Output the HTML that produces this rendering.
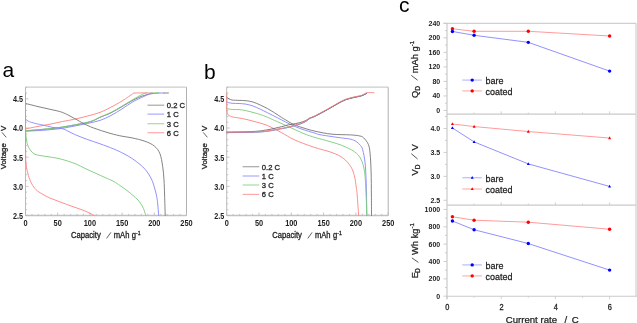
<!DOCTYPE html>
<html><head><meta charset="utf-8"><style>
html,body{margin:0;padding:0;background:#fff;}
body{width:637px;height:323px;overflow:hidden;}
svg{display:block;will-change:transform;}
</style></head><body>
<svg width="637" height="323" viewBox="0 0 637 323" font-family='"Liberation Sans", sans-serif'>
<rect width="637" height="323" fill="#fff"/>
<line x1="25.50" y1="87.20" x2="186.50" y2="87.20" stroke="#cdcdcd" stroke-width="1.3"/>
<line x1="186.50" y1="87.20" x2="186.50" y2="215.50" stroke="#b0b0b0" stroke-width="1"/>
<line x1="25.50" y1="87.20" x2="25.50" y2="215.50" stroke="#bcbcbc" stroke-width="1"/>
<line x1="25.50" y1="215.50" x2="186.50" y2="215.50" stroke="#c2c2c2" stroke-width="1.4"/>
<line x1="25.50" y1="215.50" x2="28.50" y2="215.50" stroke="#b8b8b8" stroke-width="0.8"/>
<line x1="25.50" y1="209.67" x2="27.10" y2="209.67" stroke="#b8b8b8" stroke-width="0.8"/>
<line x1="25.50" y1="203.84" x2="27.10" y2="203.84" stroke="#b8b8b8" stroke-width="0.8"/>
<line x1="25.50" y1="198.00" x2="27.10" y2="198.00" stroke="#b8b8b8" stroke-width="0.8"/>
<line x1="25.50" y1="192.17" x2="27.10" y2="192.17" stroke="#b8b8b8" stroke-width="0.8"/>
<line x1="25.50" y1="186.34" x2="28.50" y2="186.34" stroke="#b8b8b8" stroke-width="0.8"/>
<line x1="25.50" y1="180.51" x2="27.10" y2="180.51" stroke="#b8b8b8" stroke-width="0.8"/>
<line x1="25.50" y1="174.68" x2="27.10" y2="174.68" stroke="#b8b8b8" stroke-width="0.8"/>
<line x1="25.50" y1="168.85" x2="27.10" y2="168.85" stroke="#b8b8b8" stroke-width="0.8"/>
<line x1="25.50" y1="163.01" x2="27.10" y2="163.01" stroke="#b8b8b8" stroke-width="0.8"/>
<line x1="25.50" y1="157.18" x2="28.50" y2="157.18" stroke="#b8b8b8" stroke-width="0.8"/>
<line x1="25.50" y1="151.35" x2="27.10" y2="151.35" stroke="#b8b8b8" stroke-width="0.8"/>
<line x1="25.50" y1="145.52" x2="27.10" y2="145.52" stroke="#b8b8b8" stroke-width="0.8"/>
<line x1="25.50" y1="139.69" x2="27.10" y2="139.69" stroke="#b8b8b8" stroke-width="0.8"/>
<line x1="25.50" y1="133.85" x2="27.10" y2="133.85" stroke="#b8b8b8" stroke-width="0.8"/>
<line x1="25.50" y1="128.02" x2="28.50" y2="128.02" stroke="#b8b8b8" stroke-width="0.8"/>
<line x1="25.50" y1="122.19" x2="27.10" y2="122.19" stroke="#b8b8b8" stroke-width="0.8"/>
<line x1="25.50" y1="116.36" x2="27.10" y2="116.36" stroke="#b8b8b8" stroke-width="0.8"/>
<line x1="25.50" y1="110.53" x2="27.10" y2="110.53" stroke="#b8b8b8" stroke-width="0.8"/>
<line x1="25.50" y1="104.70" x2="27.10" y2="104.70" stroke="#b8b8b8" stroke-width="0.8"/>
<line x1="25.50" y1="98.86" x2="28.50" y2="98.86" stroke="#b8b8b8" stroke-width="0.8"/>
<line x1="25.50" y1="93.03" x2="27.10" y2="93.03" stroke="#b8b8b8" stroke-width="0.8"/>
<line x1="25.50" y1="87.20" x2="27.10" y2="87.20" stroke="#b8b8b8" stroke-width="0.8"/>
<line x1="25.50" y1="215.50" x2="25.50" y2="212.50" stroke="#b8b8b8" stroke-width="0.8"/>
<line x1="31.94" y1="215.50" x2="31.94" y2="213.90" stroke="#b8b8b8" stroke-width="0.8"/>
<line x1="38.38" y1="215.50" x2="38.38" y2="213.90" stroke="#b8b8b8" stroke-width="0.8"/>
<line x1="44.82" y1="215.50" x2="44.82" y2="213.90" stroke="#b8b8b8" stroke-width="0.8"/>
<line x1="51.26" y1="215.50" x2="51.26" y2="213.90" stroke="#b8b8b8" stroke-width="0.8"/>
<line x1="57.70" y1="215.50" x2="57.70" y2="212.50" stroke="#b8b8b8" stroke-width="0.8"/>
<line x1="64.14" y1="215.50" x2="64.14" y2="213.90" stroke="#b8b8b8" stroke-width="0.8"/>
<line x1="70.58" y1="215.50" x2="70.58" y2="213.90" stroke="#b8b8b8" stroke-width="0.8"/>
<line x1="77.02" y1="215.50" x2="77.02" y2="213.90" stroke="#b8b8b8" stroke-width="0.8"/>
<line x1="83.46" y1="215.50" x2="83.46" y2="213.90" stroke="#b8b8b8" stroke-width="0.8"/>
<line x1="89.90" y1="215.50" x2="89.90" y2="212.50" stroke="#b8b8b8" stroke-width="0.8"/>
<line x1="96.34" y1="215.50" x2="96.34" y2="213.90" stroke="#b8b8b8" stroke-width="0.8"/>
<line x1="102.78" y1="215.50" x2="102.78" y2="213.90" stroke="#b8b8b8" stroke-width="0.8"/>
<line x1="109.22" y1="215.50" x2="109.22" y2="213.90" stroke="#b8b8b8" stroke-width="0.8"/>
<line x1="115.66" y1="215.50" x2="115.66" y2="213.90" stroke="#b8b8b8" stroke-width="0.8"/>
<line x1="122.10" y1="215.50" x2="122.10" y2="212.50" stroke="#b8b8b8" stroke-width="0.8"/>
<line x1="128.54" y1="215.50" x2="128.54" y2="213.90" stroke="#b8b8b8" stroke-width="0.8"/>
<line x1="134.98" y1="215.50" x2="134.98" y2="213.90" stroke="#b8b8b8" stroke-width="0.8"/>
<line x1="141.42" y1="215.50" x2="141.42" y2="213.90" stroke="#b8b8b8" stroke-width="0.8"/>
<line x1="147.86" y1="215.50" x2="147.86" y2="213.90" stroke="#b8b8b8" stroke-width="0.8"/>
<line x1="154.30" y1="215.50" x2="154.30" y2="212.50" stroke="#b8b8b8" stroke-width="0.8"/>
<line x1="160.74" y1="215.50" x2="160.74" y2="213.90" stroke="#b8b8b8" stroke-width="0.8"/>
<line x1="167.18" y1="215.50" x2="167.18" y2="213.90" stroke="#b8b8b8" stroke-width="0.8"/>
<line x1="173.62" y1="215.50" x2="173.62" y2="213.90" stroke="#b8b8b8" stroke-width="0.8"/>
<line x1="180.06" y1="215.50" x2="180.06" y2="213.90" stroke="#b8b8b8" stroke-width="0.8"/>
<line x1="186.50" y1="215.50" x2="186.50" y2="212.50" stroke="#b8b8b8" stroke-width="0.8"/>
<text transform="translate(23.10,218.90) scale(0.88,1)" font-size="8.2" text-anchor="end" font-weight="bold" fill="#1e1e1e" >2.5</text>
<text transform="translate(23.10,189.74) scale(0.88,1)" font-size="8.2" text-anchor="end" font-weight="bold" fill="#1e1e1e" >3.0</text>
<text transform="translate(23.10,160.58) scale(0.88,1)" font-size="8.2" text-anchor="end" font-weight="bold" fill="#1e1e1e" >3.5</text>
<text transform="translate(23.10,131.42) scale(0.88,1)" font-size="8.2" text-anchor="end" font-weight="bold" fill="#1e1e1e" >4.0</text>
<text transform="translate(23.10,102.26) scale(0.88,1)" font-size="8.2" text-anchor="end" font-weight="bold" fill="#1e1e1e" >4.5</text>
<text transform="translate(25.50,226.10) scale(0.9,1)" font-size="8.2" text-anchor="middle" font-weight="bold" fill="#1e1e1e" >0</text>
<text transform="translate(57.70,226.10) scale(0.9,1)" font-size="8.2" text-anchor="middle" font-weight="bold" fill="#1e1e1e" >50</text>
<text transform="translate(89.90,226.10) scale(0.9,1)" font-size="8.2" text-anchor="middle" font-weight="bold" fill="#1e1e1e" >100</text>
<text transform="translate(122.10,226.10) scale(0.9,1)" font-size="8.2" text-anchor="middle" font-weight="bold" fill="#1e1e1e" >150</text>
<text transform="translate(154.30,226.10) scale(0.9,1)" font-size="8.2" text-anchor="middle" font-weight="bold" fill="#1e1e1e" >200</text>
<text transform="translate(186.50,226.10) scale(0.9,1)" font-size="8.2" text-anchor="middle" font-weight="bold" fill="#1e1e1e" >250</text>
<text transform="translate(71.1,238.2) scale(0.93,1)" font-size="8.2" fill="#1e1e1e" stroke="#1e1e1e" stroke-width="0.3">Capacity<tspan dx="14.0">mAh</tspan><tspan dx="2.6">g</tspan><tspan dy="-3" font-size="5.5">-1</tspan></text>
<line x1="106.60" y1="238.4" x2="110.90" y2="232.4" stroke="#1e1e1e" stroke-width="0.7"/>
<text transform="translate(6.0,169.3) rotate(-90)" font-size="7.8" fill="#1e1e1e" stroke="#1e1e1e" stroke-width="0.3">Voltage<tspan dx="12.4">V</tspan></text>
<line x1="2.00" y1="132.4" x2="6.20" y2="137.3" stroke="#1e1e1e" stroke-width="0.7"/>
<text x="2.4" y="77.3" font-size="21" fill="#000">a</text>
<path d="M25.50,130.90 C27.92,130.70 35.92,130.07 40.00,129.70 C44.08,129.33 46.27,129.12 50.00,128.70 C53.73,128.28 58.27,127.82 62.40,127.20 C66.53,126.58 70.67,125.78 74.80,125.00 C78.93,124.22 84.10,123.23 87.20,122.50 C90.30,121.77 91.27,121.45 93.40,120.60 C95.53,119.75 97.07,118.70 100.00,117.40 C102.93,116.10 107.33,114.60 111.00,112.80 C114.67,111.00 118.33,108.70 122.00,106.60 C125.67,104.50 130.00,101.82 133.00,100.20 C136.00,98.58 138.17,97.68 140.00,96.90 C141.83,96.12 142.58,95.93 144.00,95.50 C145.42,95.07 147.05,94.62 148.50,94.30 C149.95,93.98 151.08,93.82 152.70,93.60 C154.32,93.38 157.28,93.10 158.20,93.00 M163.9,93 L168.4,93" fill="none" stroke="#757575" stroke-width="0.9" stroke-linejoin="round" stroke-linecap="round" />
<path d="M25.50,131.20 C27.92,131.08 35.92,130.75 40.00,130.50 C44.08,130.25 46.27,130.07 50.00,129.70 C53.73,129.33 58.27,128.92 62.40,128.30 C66.53,127.68 70.67,126.80 74.80,126.00 C78.93,125.20 83.00,124.43 87.20,123.50 C91.40,122.57 96.03,121.73 100.00,120.40 C103.97,119.07 107.33,117.42 111.00,115.50 C114.67,113.58 118.33,111.20 122.00,108.90 C125.67,106.60 129.33,103.78 133.00,101.70 C136.67,99.62 141.50,97.58 144.00,96.40 C146.50,95.22 146.83,95.13 148.00,94.60 C149.17,94.07 150.25,93.47 151.00,93.20 C151.75,92.93 152.25,93.03 152.50,93.00 M158.4,93 L163.9,93" fill="none" stroke="#8585ff" stroke-width="0.9" stroke-linejoin="round" stroke-linecap="round" />
<path d="M25.50,130.70 C27.92,130.50 35.92,129.87 40.00,129.50 C44.08,129.13 46.27,128.92 50.00,128.50 C53.73,128.08 58.27,127.62 62.40,127.00 C66.53,126.38 70.67,125.58 74.80,124.80 C78.93,124.02 84.10,123.03 87.20,122.30 C90.30,121.57 91.27,121.27 93.40,120.40 C95.53,119.53 97.07,118.43 100.00,117.10 C102.93,115.77 107.33,114.23 111.00,112.40 C114.67,110.57 118.33,108.25 122.00,106.10 C125.67,103.95 129.70,101.42 133.00,99.50 C136.30,97.58 139.75,95.67 141.80,94.60 C143.85,93.53 144.43,93.37 145.30,93.10 C146.17,92.83 146.72,93.02 147.00,93.00 M150.8,93 L158.4,93" fill="none" stroke="#7acb7a" stroke-width="0.9" stroke-linejoin="round" stroke-linecap="round" />
<path d="M25.50,128.90 C27.42,128.52 32.92,127.38 37.00,126.60 C41.08,125.82 45.77,125.05 50.00,124.20 C54.23,123.35 58.27,122.33 62.40,121.50 C66.53,120.67 70.67,120.10 74.80,119.20 C78.93,118.30 83.00,117.23 87.20,116.10 C91.40,114.97 96.03,113.88 100.00,112.40 C103.97,110.92 107.33,109.10 111.00,107.20 C114.67,105.30 119.07,102.77 122.00,101.00 C124.93,99.23 126.85,97.75 128.60,96.60 C130.35,95.45 131.45,94.70 132.50,94.10 C133.55,93.50 131.85,93.18 134.90,93.00 C137.95,92.82 148.15,93.00 150.80,93.00" fill="none" stroke="#ff8080" stroke-width="0.9" stroke-linejoin="round" stroke-linecap="round" />
<path d="M25.50,103.40 C27.58,103.93 33.92,105.62 38.00,106.60 C42.08,107.58 45.93,108.33 50.00,109.30 C54.07,110.27 58.27,110.85 62.40,112.40 C66.53,113.95 71.28,116.75 74.80,118.60 C78.32,120.45 80.40,121.95 83.50,123.50 C86.60,125.05 88.98,126.27 93.40,127.90 C97.82,129.53 105.23,131.92 110.00,133.30 C114.77,134.68 118.32,135.43 122.00,136.20 C125.68,136.97 128.25,137.05 132.10,137.90 C135.95,138.75 141.38,139.93 145.10,141.30 C148.82,142.67 151.93,144.05 154.40,146.10 C156.87,148.15 158.52,150.20 159.90,153.60 C161.28,157.00 162.02,162.10 162.70,166.50 C163.38,170.90 163.68,175.25 164.00,180.00 C164.32,184.75 164.40,189.08 164.60,195.00 C164.80,200.92 165.10,212.08 165.20,215.50" fill="none" stroke="#757575" stroke-width="0.9" stroke-linejoin="round" stroke-linecap="round" />
<path d="M25.50,119.00 C25.92,119.33 26.95,120.42 28.00,121.00 C29.05,121.58 29.88,121.93 31.80,122.50 C33.72,123.07 37.43,123.93 39.50,124.40 C41.57,124.87 42.27,124.85 44.20,125.30 C46.13,125.75 48.65,126.60 51.10,127.10 C53.55,127.60 56.75,127.95 58.90,128.30 C61.05,128.65 61.35,128.17 64.00,129.20 C66.65,130.23 70.93,132.80 74.80,134.50 C78.67,136.20 83.00,137.85 87.20,139.40 C91.40,140.95 95.60,142.22 100.00,143.80 C104.40,145.38 109.60,147.23 113.60,148.90 C117.60,150.57 120.92,152.20 124.00,153.80 C127.08,155.40 129.43,156.72 132.10,158.50 C134.77,160.28 137.83,162.70 140.00,164.50 C142.17,166.30 143.57,167.55 145.10,169.30 C146.63,171.05 147.97,172.98 149.20,175.00 C150.43,177.02 151.57,179.08 152.50,181.40 C153.43,183.72 154.15,186.63 154.80,188.90 C155.45,191.17 155.93,192.67 156.40,195.00 C156.87,197.33 157.22,199.48 157.60,202.90 C157.98,206.32 158.52,213.40 158.70,215.50" fill="none" stroke="#8585ff" stroke-width="0.9" stroke-linejoin="round" stroke-linecap="round" />
<path d="M25.50,131.50 C25.67,132.92 26.08,137.58 26.50,140.00 C26.92,142.42 27.25,144.17 28.00,146.00 C28.75,147.83 29.83,149.62 31.00,151.00 C32.17,152.38 33.50,153.55 35.00,154.30 C36.50,155.05 37.83,155.10 40.00,155.50 C42.17,155.90 45.17,156.25 48.00,156.70 C50.83,157.15 54.00,157.57 57.00,158.20 C60.00,158.83 62.83,159.53 66.00,160.50 C69.17,161.47 72.83,162.68 76.00,164.00 C79.17,165.32 81.83,166.90 85.00,168.40 C88.17,169.90 91.67,171.48 95.00,173.00 C98.33,174.52 101.83,176.07 105.00,177.50 C108.17,178.93 111.50,180.27 114.00,181.60 C116.50,182.93 117.83,184.02 120.00,185.50 C122.17,186.98 124.83,188.83 127.00,190.50 C129.17,192.17 131.17,193.92 133.00,195.50 C134.83,197.08 136.67,198.58 138.00,200.00 C139.33,201.42 140.08,202.58 141.00,204.00 C141.92,205.42 142.70,206.58 143.50,208.50 C144.30,210.42 145.42,214.33 145.80,215.50" fill="none" stroke="#7acb7a" stroke-width="0.9" stroke-linejoin="round" stroke-linecap="round" />
<path d="M25.50,93.50 C25.50,99.58 25.48,120.58 25.50,130.00 C25.52,139.42 25.53,144.60 25.60,150.00 C25.67,155.40 25.60,158.78 25.90,162.40 C26.20,166.02 26.77,168.87 27.40,171.70 C28.03,174.53 28.80,177.08 29.70,179.40 C30.60,181.72 31.50,183.67 32.80,185.60 C34.10,187.53 35.43,189.32 37.50,191.00 C39.57,192.68 42.78,194.40 45.20,195.70 C47.62,197.00 48.47,197.37 52.00,198.80 C55.53,200.23 60.90,202.27 66.40,204.30 C71.90,206.33 80.37,209.13 85.00,211.00 C89.63,212.87 92.67,214.75 94.20,215.50" fill="none" stroke="#ff8080" stroke-width="0.9" stroke-linejoin="round" stroke-linecap="round" />
<line x1="147.50" y1="105.20" x2="164.20" y2="105.20" stroke="#a8a8a8" stroke-width="1.2"/>
<text transform="translate(166.80,108.00) scale(0.98,1)" font-size="7.8" text-anchor="start" font-weight="normal" fill="#1e1e1e" stroke="#1e1e1e" stroke-width="0.3">0.2 C</text>
<line x1="147.50" y1="114.10" x2="164.20" y2="114.10" stroke="#aaaaff" stroke-width="1.2"/>
<text transform="translate(166.80,116.90) scale(0.98,1)" font-size="7.8" text-anchor="start" font-weight="normal" fill="#1e1e1e" stroke="#1e1e1e" stroke-width="0.3">1 C</text>
<line x1="147.50" y1="123.70" x2="164.20" y2="123.70" stroke="#a6dca6" stroke-width="1.2"/>
<text transform="translate(166.80,126.50) scale(0.98,1)" font-size="7.8" text-anchor="start" font-weight="normal" fill="#1e1e1e" stroke="#1e1e1e" stroke-width="0.3">3 C</text>
<line x1="147.50" y1="132.70" x2="164.20" y2="132.70" stroke="#ffaaaa" stroke-width="1.2"/>
<text transform="translate(166.80,135.50) scale(0.98,1)" font-size="7.8" text-anchor="start" font-weight="normal" fill="#1e1e1e" stroke="#1e1e1e" stroke-width="0.3">6 C</text>
<line x1="226.70" y1="87.20" x2="388.20" y2="87.20" stroke="#cdcdcd" stroke-width="1.3"/>
<line x1="388.20" y1="87.20" x2="388.20" y2="215.50" stroke="#b0b0b0" stroke-width="1"/>
<line x1="226.70" y1="87.20" x2="226.70" y2="215.50" stroke="#bcbcbc" stroke-width="1"/>
<line x1="226.70" y1="215.50" x2="388.20" y2="215.50" stroke="#c2c2c2" stroke-width="1.4"/>
<line x1="226.70" y1="215.50" x2="229.70" y2="215.50" stroke="#b8b8b8" stroke-width="0.8"/>
<line x1="226.70" y1="209.67" x2="228.30" y2="209.67" stroke="#b8b8b8" stroke-width="0.8"/>
<line x1="226.70" y1="203.84" x2="228.30" y2="203.84" stroke="#b8b8b8" stroke-width="0.8"/>
<line x1="226.70" y1="198.00" x2="228.30" y2="198.00" stroke="#b8b8b8" stroke-width="0.8"/>
<line x1="226.70" y1="192.17" x2="228.30" y2="192.17" stroke="#b8b8b8" stroke-width="0.8"/>
<line x1="226.70" y1="186.34" x2="229.70" y2="186.34" stroke="#b8b8b8" stroke-width="0.8"/>
<line x1="226.70" y1="180.51" x2="228.30" y2="180.51" stroke="#b8b8b8" stroke-width="0.8"/>
<line x1="226.70" y1="174.68" x2="228.30" y2="174.68" stroke="#b8b8b8" stroke-width="0.8"/>
<line x1="226.70" y1="168.85" x2="228.30" y2="168.85" stroke="#b8b8b8" stroke-width="0.8"/>
<line x1="226.70" y1="163.01" x2="228.30" y2="163.01" stroke="#b8b8b8" stroke-width="0.8"/>
<line x1="226.70" y1="157.18" x2="229.70" y2="157.18" stroke="#b8b8b8" stroke-width="0.8"/>
<line x1="226.70" y1="151.35" x2="228.30" y2="151.35" stroke="#b8b8b8" stroke-width="0.8"/>
<line x1="226.70" y1="145.52" x2="228.30" y2="145.52" stroke="#b8b8b8" stroke-width="0.8"/>
<line x1="226.70" y1="139.69" x2="228.30" y2="139.69" stroke="#b8b8b8" stroke-width="0.8"/>
<line x1="226.70" y1="133.85" x2="228.30" y2="133.85" stroke="#b8b8b8" stroke-width="0.8"/>
<line x1="226.70" y1="128.02" x2="229.70" y2="128.02" stroke="#b8b8b8" stroke-width="0.8"/>
<line x1="226.70" y1="122.19" x2="228.30" y2="122.19" stroke="#b8b8b8" stroke-width="0.8"/>
<line x1="226.70" y1="116.36" x2="228.30" y2="116.36" stroke="#b8b8b8" stroke-width="0.8"/>
<line x1="226.70" y1="110.53" x2="228.30" y2="110.53" stroke="#b8b8b8" stroke-width="0.8"/>
<line x1="226.70" y1="104.70" x2="228.30" y2="104.70" stroke="#b8b8b8" stroke-width="0.8"/>
<line x1="226.70" y1="98.86" x2="229.70" y2="98.86" stroke="#b8b8b8" stroke-width="0.8"/>
<line x1="226.70" y1="93.03" x2="228.30" y2="93.03" stroke="#b8b8b8" stroke-width="0.8"/>
<line x1="226.70" y1="87.20" x2="228.30" y2="87.20" stroke="#b8b8b8" stroke-width="0.8"/>
<line x1="226.70" y1="215.50" x2="226.70" y2="212.50" stroke="#b8b8b8" stroke-width="0.8"/>
<line x1="233.16" y1="215.50" x2="233.16" y2="213.90" stroke="#b8b8b8" stroke-width="0.8"/>
<line x1="239.62" y1="215.50" x2="239.62" y2="213.90" stroke="#b8b8b8" stroke-width="0.8"/>
<line x1="246.08" y1="215.50" x2="246.08" y2="213.90" stroke="#b8b8b8" stroke-width="0.8"/>
<line x1="252.54" y1="215.50" x2="252.54" y2="213.90" stroke="#b8b8b8" stroke-width="0.8"/>
<line x1="259.00" y1="215.50" x2="259.00" y2="212.50" stroke="#b8b8b8" stroke-width="0.8"/>
<line x1="265.46" y1="215.50" x2="265.46" y2="213.90" stroke="#b8b8b8" stroke-width="0.8"/>
<line x1="271.92" y1="215.50" x2="271.92" y2="213.90" stroke="#b8b8b8" stroke-width="0.8"/>
<line x1="278.38" y1="215.50" x2="278.38" y2="213.90" stroke="#b8b8b8" stroke-width="0.8"/>
<line x1="284.84" y1="215.50" x2="284.84" y2="213.90" stroke="#b8b8b8" stroke-width="0.8"/>
<line x1="291.30" y1="215.50" x2="291.30" y2="212.50" stroke="#b8b8b8" stroke-width="0.8"/>
<line x1="297.76" y1="215.50" x2="297.76" y2="213.90" stroke="#b8b8b8" stroke-width="0.8"/>
<line x1="304.22" y1="215.50" x2="304.22" y2="213.90" stroke="#b8b8b8" stroke-width="0.8"/>
<line x1="310.68" y1="215.50" x2="310.68" y2="213.90" stroke="#b8b8b8" stroke-width="0.8"/>
<line x1="317.14" y1="215.50" x2="317.14" y2="213.90" stroke="#b8b8b8" stroke-width="0.8"/>
<line x1="323.60" y1="215.50" x2="323.60" y2="212.50" stroke="#b8b8b8" stroke-width="0.8"/>
<line x1="330.06" y1="215.50" x2="330.06" y2="213.90" stroke="#b8b8b8" stroke-width="0.8"/>
<line x1="336.52" y1="215.50" x2="336.52" y2="213.90" stroke="#b8b8b8" stroke-width="0.8"/>
<line x1="342.98" y1="215.50" x2="342.98" y2="213.90" stroke="#b8b8b8" stroke-width="0.8"/>
<line x1="349.44" y1="215.50" x2="349.44" y2="213.90" stroke="#b8b8b8" stroke-width="0.8"/>
<line x1="355.90" y1="215.50" x2="355.90" y2="212.50" stroke="#b8b8b8" stroke-width="0.8"/>
<line x1="362.36" y1="215.50" x2="362.36" y2="213.90" stroke="#b8b8b8" stroke-width="0.8"/>
<line x1="368.82" y1="215.50" x2="368.82" y2="213.90" stroke="#b8b8b8" stroke-width="0.8"/>
<line x1="375.28" y1="215.50" x2="375.28" y2="213.90" stroke="#b8b8b8" stroke-width="0.8"/>
<line x1="381.74" y1="215.50" x2="381.74" y2="213.90" stroke="#b8b8b8" stroke-width="0.8"/>
<line x1="388.20" y1="215.50" x2="388.20" y2="212.50" stroke="#b8b8b8" stroke-width="0.8"/>
<text transform="translate(224.30,218.90) scale(0.88,1)" font-size="8.2" text-anchor="end" font-weight="bold" fill="#1e1e1e" >2.5</text>
<text transform="translate(224.30,189.74) scale(0.88,1)" font-size="8.2" text-anchor="end" font-weight="bold" fill="#1e1e1e" >3.0</text>
<text transform="translate(224.30,160.58) scale(0.88,1)" font-size="8.2" text-anchor="end" font-weight="bold" fill="#1e1e1e" >3.5</text>
<text transform="translate(224.30,131.42) scale(0.88,1)" font-size="8.2" text-anchor="end" font-weight="bold" fill="#1e1e1e" >4.0</text>
<text transform="translate(224.30,102.26) scale(0.88,1)" font-size="8.2" text-anchor="end" font-weight="bold" fill="#1e1e1e" >4.5</text>
<text transform="translate(226.70,226.10) scale(0.9,1)" font-size="8.2" text-anchor="middle" font-weight="bold" fill="#1e1e1e" >0</text>
<text transform="translate(259.00,226.10) scale(0.9,1)" font-size="8.2" text-anchor="middle" font-weight="bold" fill="#1e1e1e" >50</text>
<text transform="translate(291.30,226.10) scale(0.9,1)" font-size="8.2" text-anchor="middle" font-weight="bold" fill="#1e1e1e" >100</text>
<text transform="translate(323.60,226.10) scale(0.9,1)" font-size="8.2" text-anchor="middle" font-weight="bold" fill="#1e1e1e" >150</text>
<text transform="translate(355.90,226.10) scale(0.9,1)" font-size="8.2" text-anchor="middle" font-weight="bold" fill="#1e1e1e" >200</text>
<text transform="translate(388.20,226.10) scale(0.9,1)" font-size="8.2" text-anchor="middle" font-weight="bold" fill="#1e1e1e" >250</text>
<text transform="translate(272.3,238.2) scale(0.93,1)" font-size="8.2" fill="#1e1e1e" stroke="#1e1e1e" stroke-width="0.3">Capacity<tspan dx="14.0">mAh</tspan><tspan dx="2.6">g</tspan><tspan dy="-3" font-size="5.5">-1</tspan></text>
<line x1="307.80" y1="238.4" x2="312.10" y2="232.4" stroke="#1e1e1e" stroke-width="0.7"/>
<text transform="translate(207.2,169.3) rotate(-90)" font-size="7.8" fill="#1e1e1e" stroke="#1e1e1e" stroke-width="0.3">Voltage<tspan dx="12.4">V</tspan></text>
<line x1="203.20" y1="132.4" x2="207.40" y2="137.3" stroke="#1e1e1e" stroke-width="0.7"/>
<text x="204.0" y="78.5" font-size="21" fill="#000">b</text>
<path d="M226.70,97.20 C227.08,97.47 228.10,98.33 229.00,98.80 C229.90,99.27 230.42,99.73 232.10,100.00 C233.78,100.27 236.75,100.28 239.10,100.40 C241.45,100.52 243.85,100.42 246.20,100.70 C248.55,100.98 250.85,101.38 253.20,102.10 C255.55,102.82 257.93,103.93 260.30,105.00 C262.67,106.07 265.05,107.22 267.40,108.50 C269.75,109.78 272.05,111.22 274.40,112.70 C276.75,114.18 279.62,116.20 281.50,117.40 C283.38,118.60 283.82,118.78 285.70,119.90 C287.58,121.02 290.08,122.83 292.80,124.10 C295.52,125.37 298.30,126.32 302.00,127.50 C305.70,128.68 309.98,130.08 315.00,131.20 C320.02,132.32 326.15,133.58 332.10,134.20 C338.05,134.82 346.07,134.60 350.70,134.90 C355.33,135.20 357.75,135.52 359.90,136.00 C362.05,136.48 362.20,136.42 363.60,137.80 C365.00,139.18 367.22,141.67 368.30,144.30 C369.38,146.93 369.63,148.97 370.10,153.60 C370.57,158.23 370.88,165.20 371.10,172.10 C371.32,179.00 371.33,187.77 371.40,195.00 C371.47,202.23 371.48,212.08 371.50,215.50" fill="none" stroke="#757575" stroke-width="0.9" stroke-linejoin="round" stroke-linecap="round" />
<path d="M226.70,102.10 C227.60,102.30 230.03,103.07 232.10,103.30 C234.17,103.53 236.75,103.35 239.10,103.50 C241.45,103.65 243.85,103.77 246.20,104.20 C248.55,104.63 250.85,105.27 253.20,106.10 C255.55,106.93 257.93,108.10 260.30,109.20 C262.67,110.30 264.57,111.28 267.40,112.70 C270.23,114.12 274.25,116.15 277.30,117.70 C280.35,119.25 283.12,120.70 285.70,122.00 C288.28,123.30 290.08,124.30 292.80,125.50 C295.52,126.70 298.30,127.92 302.00,129.20 C305.70,130.48 312.15,132.32 315.00,133.20 C317.85,134.08 316.27,133.93 319.10,134.50 C321.93,135.07 328.28,136.03 332.00,136.60 C335.72,137.17 338.28,137.47 341.40,137.90 C344.52,138.33 348.23,138.60 350.70,139.20 C353.17,139.80 354.57,140.45 356.20,141.50 C357.83,142.55 359.42,144.12 360.50,145.50 C361.58,146.88 361.93,146.92 362.70,149.80 C363.47,152.68 364.53,157.77 365.10,162.80 C365.67,167.83 365.87,174.63 366.10,180.00 C366.33,185.37 366.37,189.08 366.50,195.00 C366.63,200.92 366.83,212.08 366.90,215.50" fill="none" stroke="#8585ff" stroke-width="0.9" stroke-linejoin="round" stroke-linecap="round" />
<path d="M226.70,108.50 C227.60,108.67 230.03,109.32 232.10,109.50 C234.17,109.68 236.75,109.40 239.10,109.60 C241.45,109.80 243.72,110.18 246.20,110.70 C248.68,111.22 251.65,112.07 254.00,112.70 C256.35,113.33 258.07,113.75 260.30,114.50 C262.53,115.25 265.05,116.22 267.40,117.20 C269.75,118.18 270.87,118.83 274.40,120.40 C277.93,121.97 283.83,124.45 288.60,126.60 C293.37,128.75 298.60,131.48 303.00,133.30 C307.40,135.12 311.70,136.45 315.00,137.50 C318.30,138.55 318.40,138.32 322.80,139.60 C327.20,140.88 336.13,143.18 341.40,145.20 C346.67,147.22 351.15,149.38 354.40,151.70 C357.65,154.02 359.20,155.70 360.90,159.10 C362.60,162.50 363.73,166.12 364.60,172.10 C365.47,178.08 365.75,187.77 366.10,195.00 C366.45,202.23 366.60,212.08 366.70,215.50" fill="none" stroke="#7acb7a" stroke-width="0.9" stroke-linejoin="round" stroke-linecap="round" />
<path d="M226.70,93.60 C226.72,95.50 226.77,102.18 226.80,105.00 C226.83,107.82 226.80,109.03 226.90,110.50 C227.00,111.97 227.05,112.97 227.40,113.80 C227.75,114.63 228.02,114.95 229.00,115.50 C229.98,116.05 231.03,116.58 233.30,117.10 C235.57,117.62 239.15,117.88 242.60,118.60 C246.05,119.32 249.87,120.25 254.00,121.40 C258.13,122.55 262.82,123.63 267.40,125.50 C271.98,127.37 277.03,130.23 281.50,132.60 C285.97,134.97 288.85,137.28 294.20,139.70 C299.55,142.12 307.28,144.95 313.60,147.10 C319.92,149.25 327.17,150.75 332.10,152.60 C337.03,154.45 340.10,155.88 343.20,158.20 C346.30,160.52 348.83,163.57 350.70,166.50 C352.57,169.43 353.48,172.38 354.40,175.80 C355.32,179.22 355.73,183.80 356.20,187.00 C356.67,190.20 356.80,190.25 357.20,195.00 C357.60,199.75 358.37,212.08 358.60,215.50" fill="none" stroke="#ff8080" stroke-width="0.9" stroke-linejoin="round" stroke-linecap="round" />
<path d="M226.70,132.60 C231.12,132.55 246.42,132.53 253.20,132.30 C259.98,132.07 262.68,131.80 267.40,131.20 C272.12,130.60 277.97,129.35 281.50,128.70 C285.03,128.05 286.25,127.85 288.60,127.30 C290.95,126.75 293.25,126.12 295.60,125.40 C297.95,124.68 300.82,123.78 302.70,123.00 C304.58,122.22 305.73,121.43 306.90,120.70 C308.07,119.97 308.35,119.35 309.70,118.60 C311.05,117.85 312.10,117.68 315.00,116.20 C317.90,114.72 322.47,112.25 327.10,109.70 C331.73,107.15 338.62,102.88 342.80,100.90 C346.98,98.92 349.07,98.67 352.20,97.80 C355.33,96.93 359.18,96.45 361.60,95.70 C364.02,94.95 365.85,93.70 366.70,93.30" fill="none" stroke="#7acb7a" stroke-width="0.9" stroke-linejoin="round" stroke-linecap="round" />
<path d="M226.70,132.60 C231.12,132.55 246.42,132.53 253.20,132.30 C259.98,132.07 262.68,131.80 267.40,131.20 C272.12,130.60 277.97,129.35 281.50,128.70 C285.03,128.05 286.25,127.85 288.60,127.30 C290.95,126.75 293.25,126.12 295.60,125.40 C297.95,124.68 300.82,123.78 302.70,123.00 C304.58,122.22 305.73,121.43 306.90,120.70 C308.07,119.97 308.35,119.35 309.70,118.60 C311.05,117.85 312.10,117.68 315.00,116.20 C317.90,114.72 322.47,112.25 327.10,109.70 C331.73,107.15 338.62,102.88 342.80,100.90 C346.98,98.92 349.07,98.67 352.20,97.80 C355.33,96.93 359.18,96.45 361.60,95.70 C364.02,94.95 365.85,93.70 366.70,93.30" fill="none" stroke="#8585ff" stroke-width="0.9" stroke-linejoin="round" stroke-linecap="round" />
<path d="M226.70,132.10 C231.12,132.00 246.42,131.88 253.20,131.50 C259.98,131.12 262.68,130.60 267.40,129.80 C272.12,129.00 277.97,127.53 281.50,126.70 C285.03,125.87 286.25,125.32 288.60,124.80 C290.95,124.28 293.25,124.10 295.60,123.60 C297.95,123.10 300.82,122.42 302.70,121.80 C304.58,121.18 305.73,120.53 306.90,119.90 C308.07,119.27 308.35,118.62 309.70,118.00 C311.05,117.38 312.10,117.57 315.00,116.20 C317.90,114.83 322.47,112.33 327.10,109.80 C331.73,107.27 338.62,102.98 342.80,101.00 C346.98,99.02 349.07,98.77 352.20,97.90 C355.33,97.03 359.22,96.55 361.60,95.80 C363.98,95.05 365.68,93.80 366.50,93.40" fill="none" stroke="#6a6a6a" stroke-width="0.9" stroke-linejoin="round" stroke-linecap="round" />
<path d="M226.70,132.20 C231.12,132.15 246.42,132.13 253.20,131.90 C259.98,131.67 262.68,131.40 267.40,130.80 C272.12,130.20 277.97,128.95 281.50,128.30 C285.03,127.65 286.25,127.45 288.60,126.90 C290.95,126.35 293.25,125.72 295.60,125.00 C297.95,124.28 300.82,123.38 302.70,122.60 C304.58,121.82 305.73,121.03 306.90,120.30 C308.07,119.57 308.35,118.95 309.70,118.20 C311.05,117.45 312.10,117.28 315.00,115.80 C317.90,114.32 322.47,111.85 327.10,109.30 C331.73,106.75 338.62,102.48 342.80,100.50 C346.98,98.52 349.07,98.27 352.20,97.40 C355.33,96.53 359.18,96.08 361.60,95.30 C364.02,94.52 364.63,93.17 366.70,92.75 C368.77,92.33 372.78,92.75 374.00,92.75" fill="none" stroke="#ff8080" stroke-width="0.9" stroke-linejoin="round" stroke-linecap="round" />
<line x1="242.60" y1="166.70" x2="259.30" y2="166.70" stroke="#a8a8a8" stroke-width="1.2"/>
<text transform="translate(261.80,169.50) scale(0.98,1)" font-size="7.8" text-anchor="start" font-weight="normal" fill="#1e1e1e" stroke="#1e1e1e" stroke-width="0.3">0.2 C</text>
<line x1="242.60" y1="176.00" x2="259.30" y2="176.00" stroke="#aaaaff" stroke-width="1.2"/>
<text transform="translate(261.80,178.80) scale(0.98,1)" font-size="7.8" text-anchor="start" font-weight="normal" fill="#1e1e1e" stroke="#1e1e1e" stroke-width="0.3">1 C</text>
<line x1="242.60" y1="185.00" x2="259.30" y2="185.00" stroke="#a6dca6" stroke-width="1.2"/>
<text transform="translate(261.80,187.80) scale(0.98,1)" font-size="7.8" text-anchor="start" font-weight="normal" fill="#1e1e1e" stroke="#1e1e1e" stroke-width="0.3">3 C</text>
<line x1="242.60" y1="194.40" x2="259.30" y2="194.40" stroke="#ffaaaa" stroke-width="1.2"/>
<text transform="translate(261.80,197.20) scale(0.98,1)" font-size="7.8" text-anchor="start" font-weight="normal" fill="#1e1e1e" stroke="#1e1e1e" stroke-width="0.3">6 C</text>
<text x="399.0" y="12.0" font-size="21" fill="#000">c</text>
<line x1="443.50" y1="23.30" x2="636.00" y2="23.30" stroke="#d0d0d0" stroke-width="1.2"/>
<line x1="636.00" y1="23.30" x2="636.00" y2="296.20" stroke="#c8c8c8" stroke-width="1.0"/>
<line x1="447.00" y1="23.30" x2="447.00" y2="299.20" stroke="#cacaca" stroke-width="1.2"/>
<line x1="447.00" y1="114.10" x2="636.00" y2="114.10" stroke="#cacaca" stroke-width="1.1"/>
<line x1="447.00" y1="205.10" x2="636.00" y2="205.10" stroke="#cacaca" stroke-width="1.1"/>
<line x1="447.00" y1="296.20" x2="637.00" y2="296.20" stroke="#cacaca" stroke-width="1.1"/>
<line x1="474.10" y1="114.10" x2="474.10" y2="112.50" stroke="#c8c8c8" stroke-width="0.8"/>
<line x1="501.20" y1="114.10" x2="501.20" y2="111.30" stroke="#c8c8c8" stroke-width="0.8"/>
<line x1="528.30" y1="114.10" x2="528.30" y2="112.50" stroke="#c8c8c8" stroke-width="0.8"/>
<line x1="555.40" y1="114.10" x2="555.40" y2="111.30" stroke="#c8c8c8" stroke-width="0.8"/>
<line x1="582.50" y1="114.10" x2="582.50" y2="112.50" stroke="#c8c8c8" stroke-width="0.8"/>
<line x1="609.60" y1="114.10" x2="609.60" y2="111.30" stroke="#c8c8c8" stroke-width="0.8"/>
<line x1="474.10" y1="205.10" x2="474.10" y2="203.50" stroke="#c8c8c8" stroke-width="0.8"/>
<line x1="501.20" y1="205.10" x2="501.20" y2="202.30" stroke="#c8c8c8" stroke-width="0.8"/>
<line x1="528.30" y1="205.10" x2="528.30" y2="203.50" stroke="#c8c8c8" stroke-width="0.8"/>
<line x1="555.40" y1="205.10" x2="555.40" y2="202.30" stroke="#c8c8c8" stroke-width="0.8"/>
<line x1="582.50" y1="205.10" x2="582.50" y2="203.50" stroke="#c8c8c8" stroke-width="0.8"/>
<line x1="609.60" y1="205.10" x2="609.60" y2="202.30" stroke="#c8c8c8" stroke-width="0.8"/>
<line x1="447.00" y1="296.20" x2="447.00" y2="299.20" stroke="#c8c8c8" stroke-width="0.8"/>
<line x1="474.10" y1="296.20" x2="474.10" y2="297.80" stroke="#c8c8c8" stroke-width="0.8"/>
<line x1="501.20" y1="296.20" x2="501.20" y2="299.20" stroke="#c8c8c8" stroke-width="0.8"/>
<line x1="528.30" y1="296.20" x2="528.30" y2="297.80" stroke="#c8c8c8" stroke-width="0.8"/>
<line x1="555.40" y1="296.20" x2="555.40" y2="299.20" stroke="#c8c8c8" stroke-width="0.8"/>
<line x1="582.50" y1="296.20" x2="582.50" y2="297.80" stroke="#c8c8c8" stroke-width="0.8"/>
<line x1="609.60" y1="296.20" x2="609.60" y2="299.20" stroke="#c8c8c8" stroke-width="0.8"/>
<text transform="translate(447.30,309.90) scale(0.88,1)" font-size="8.4" text-anchor="middle" font-weight="normal" fill="#1e1e1e" stroke="#1e1e1e" stroke-width="0.3">0</text>
<text transform="translate(501.50,309.90) scale(0.88,1)" font-size="8.4" text-anchor="middle" font-weight="normal" fill="#1e1e1e" stroke="#1e1e1e" stroke-width="0.3">2</text>
<text transform="translate(555.70,309.90) scale(0.88,1)" font-size="8.4" text-anchor="middle" font-weight="normal" fill="#1e1e1e" stroke="#1e1e1e" stroke-width="0.3">4</text>
<text transform="translate(609.90,309.90) scale(0.88,1)" font-size="8.4" text-anchor="middle" font-weight="normal" fill="#1e1e1e" stroke="#1e1e1e" stroke-width="0.3">6</text>
<text x="505.8" y="322.6" font-size="9.6" fill="#1e1e1e" stroke="#1e1e1e" stroke-width="0.25">Current rate<tspan dx="7.4">/</tspan><tspan dx="4.6">C</tspan></text>
<line x1="443.50" y1="110.47" x2="447.00" y2="110.47" stroke="#c8c8c8" stroke-width="0.9"/>
<line x1="445.00" y1="103.20" x2="447.00" y2="103.20" stroke="#c8c8c8" stroke-width="0.9"/>
<line x1="443.50" y1="95.94" x2="447.00" y2="95.94" stroke="#c8c8c8" stroke-width="0.9"/>
<line x1="445.00" y1="88.68" x2="447.00" y2="88.68" stroke="#c8c8c8" stroke-width="0.9"/>
<line x1="443.50" y1="81.41" x2="447.00" y2="81.41" stroke="#c8c8c8" stroke-width="0.9"/>
<line x1="445.00" y1="74.15" x2="447.00" y2="74.15" stroke="#c8c8c8" stroke-width="0.9"/>
<line x1="443.50" y1="66.88" x2="447.00" y2="66.88" stroke="#c8c8c8" stroke-width="0.9"/>
<line x1="445.00" y1="59.62" x2="447.00" y2="59.62" stroke="#c8c8c8" stroke-width="0.9"/>
<line x1="443.50" y1="52.36" x2="447.00" y2="52.36" stroke="#c8c8c8" stroke-width="0.9"/>
<line x1="445.00" y1="45.09" x2="447.00" y2="45.09" stroke="#c8c8c8" stroke-width="0.9"/>
<line x1="443.50" y1="37.83" x2="447.00" y2="37.83" stroke="#c8c8c8" stroke-width="0.9"/>
<line x1="445.00" y1="30.56" x2="447.00" y2="30.56" stroke="#c8c8c8" stroke-width="0.9"/>
<line x1="443.50" y1="23.30" x2="447.00" y2="23.30" stroke="#c8c8c8" stroke-width="0.9"/>
<text x="440.20" y="112.97" font-size="7.0" text-anchor="end" font-weight="bold" fill="#1e1e1e" >0</text>
<text x="440.20" y="98.44" font-size="7.0" text-anchor="end" font-weight="bold" fill="#1e1e1e" >40</text>
<text x="440.20" y="83.91" font-size="7.0" text-anchor="end" font-weight="bold" fill="#1e1e1e" >80</text>
<text x="440.20" y="69.38" font-size="7.0" text-anchor="end" font-weight="bold" fill="#1e1e1e" >120</text>
<text x="440.20" y="54.86" font-size="7.0" text-anchor="end" font-weight="bold" fill="#1e1e1e" >160</text>
<text x="440.20" y="40.33" font-size="7.0" text-anchor="end" font-weight="bold" fill="#1e1e1e" >200</text>
<text x="440.20" y="25.80" font-size="7.0" text-anchor="end" font-weight="bold" fill="#1e1e1e" >240</text>
<line x1="443.50" y1="200.31" x2="447.00" y2="200.31" stroke="#c8c8c8" stroke-width="0.9"/>
<line x1="445.00" y1="188.34" x2="447.00" y2="188.34" stroke="#c8c8c8" stroke-width="0.9"/>
<line x1="443.50" y1="176.36" x2="447.00" y2="176.36" stroke="#c8c8c8" stroke-width="0.9"/>
<line x1="445.00" y1="164.39" x2="447.00" y2="164.39" stroke="#c8c8c8" stroke-width="0.9"/>
<line x1="443.50" y1="152.42" x2="447.00" y2="152.42" stroke="#c8c8c8" stroke-width="0.9"/>
<line x1="445.00" y1="140.44" x2="447.00" y2="140.44" stroke="#c8c8c8" stroke-width="0.9"/>
<line x1="443.50" y1="128.47" x2="447.00" y2="128.47" stroke="#c8c8c8" stroke-width="0.9"/>
<line x1="445.00" y1="116.49" x2="447.00" y2="116.49" stroke="#c8c8c8" stroke-width="0.9"/>
<text x="440.20" y="202.81" font-size="7.0" text-anchor="end" font-weight="bold" fill="#1e1e1e" >2.5</text>
<text x="440.20" y="178.86" font-size="7.0" text-anchor="end" font-weight="bold" fill="#1e1e1e" >3.0</text>
<text x="440.20" y="154.92" font-size="7.0" text-anchor="end" font-weight="bold" fill="#1e1e1e" >3.5</text>
<text x="440.20" y="130.97" font-size="7.0" text-anchor="end" font-weight="bold" fill="#1e1e1e" >4.0</text>
<line x1="443.50" y1="296.20" x2="447.00" y2="296.20" stroke="#c8c8c8" stroke-width="0.9"/>
<line x1="445.00" y1="287.52" x2="447.00" y2="287.52" stroke="#c8c8c8" stroke-width="0.9"/>
<line x1="443.50" y1="278.85" x2="447.00" y2="278.85" stroke="#c8c8c8" stroke-width="0.9"/>
<line x1="445.00" y1="270.17" x2="447.00" y2="270.17" stroke="#c8c8c8" stroke-width="0.9"/>
<line x1="443.50" y1="261.50" x2="447.00" y2="261.50" stroke="#c8c8c8" stroke-width="0.9"/>
<line x1="445.00" y1="252.82" x2="447.00" y2="252.82" stroke="#c8c8c8" stroke-width="0.9"/>
<line x1="443.50" y1="244.14" x2="447.00" y2="244.14" stroke="#c8c8c8" stroke-width="0.9"/>
<line x1="445.00" y1="235.47" x2="447.00" y2="235.47" stroke="#c8c8c8" stroke-width="0.9"/>
<line x1="443.50" y1="226.79" x2="447.00" y2="226.79" stroke="#c8c8c8" stroke-width="0.9"/>
<line x1="445.00" y1="218.11" x2="447.00" y2="218.11" stroke="#c8c8c8" stroke-width="0.9"/>
<line x1="443.50" y1="209.44" x2="447.00" y2="209.44" stroke="#c8c8c8" stroke-width="0.9"/>
<text x="440.20" y="298.70" font-size="7.0" text-anchor="end" font-weight="bold" fill="#1e1e1e" >0</text>
<text x="440.20" y="281.35" font-size="7.0" text-anchor="end" font-weight="bold" fill="#1e1e1e" >200</text>
<text x="440.20" y="264.00" font-size="7.0" text-anchor="end" font-weight="bold" fill="#1e1e1e" >400</text>
<text x="440.20" y="246.64" font-size="7.0" text-anchor="end" font-weight="bold" fill="#1e1e1e" >600</text>
<text x="440.20" y="229.29" font-size="7.0" text-anchor="end" font-weight="bold" fill="#1e1e1e" >800</text>
<text x="440.20" y="211.94" font-size="7.0" text-anchor="end" font-weight="bold" fill="#1e1e1e" >1000</text>
<text transform="translate(418.0,98.0) rotate(-90)" font-size="9.3" fill="#1e1e1e" stroke="#1e1e1e" stroke-width="0.25">Q<tspan font-size="6.6" dy="1.9" dx="0">D</tspan></text>
<line x1="411.3" y1="75.4" x2="417.6" y2="80.2" stroke="#1e1e1e" stroke-width="0.75"/>
<text transform="translate(418.0,73.2) rotate(-90)" font-size="9.3" fill="#1e1e1e" stroke="#1e1e1e" stroke-width="0.25">mAh g<tspan font-size="6" dy="-3.6">-1</tspan></text>
<text transform="translate(418.0,175.4) rotate(-90)" font-size="9.3" fill="#1e1e1e" stroke="#1e1e1e" stroke-width="0.25">V<tspan font-size="6.6" dy="1.9" dx="0">D</tspan></text>
<line x1="411.3" y1="153.7" x2="417.6" y2="159.0" stroke="#1e1e1e" stroke-width="0.75"/>
<text transform="translate(418.0,150.5) rotate(-90)" font-size="9.3" fill="#1e1e1e" stroke="#1e1e1e" stroke-width="0.25">V</text>
<text transform="translate(418.0,278.3) rotate(-90)" font-size="9.3" fill="#1e1e1e" stroke="#1e1e1e" stroke-width="0.25">E<tspan font-size="6.6" dy="1.9" dx="-0.8">D</tspan></text>
<line x1="411.9" y1="257.9" x2="418.4" y2="262.4" stroke="#1e1e1e" stroke-width="0.75"/>
<text transform="translate(418.0,254.9) rotate(-90)" font-size="9.3" fill="#1e1e1e" stroke="#1e1e1e" stroke-width="0.25">Wh kg<tspan font-size="6" dy="-3.6">-1</tspan></text>
<polyline points="452.42,28.75 474.10,31.29 528.30,31.29 609.60,36.01" fill="none" stroke="#ff9c9c" stroke-width="1"/>
<polyline points="452.42,31.44 474.10,35.29 528.30,42.33 609.60,71.10" fill="none" stroke="#9292ff" stroke-width="1"/>
<circle cx="452.42" cy="28.75" r="1.7" fill="#ff0000"/>
<circle cx="474.10" cy="31.29" r="1.7" fill="#ff0000"/>
<circle cx="528.30" cy="31.29" r="1.7" fill="#ff0000"/>
<circle cx="609.60" cy="36.01" r="1.7" fill="#ff0000"/>
<circle cx="452.42" cy="31.44" r="1.7" fill="#0000ff"/>
<circle cx="474.10" cy="35.29" r="1.7" fill="#0000ff"/>
<circle cx="528.30" cy="42.33" r="1.7" fill="#0000ff"/>
<circle cx="609.60" cy="71.10" r="1.7" fill="#0000ff"/>
<line x1="462.30" y1="80.10" x2="481.90" y2="80.10" stroke="#c0c0ff" stroke-width="1.3"/>
<circle cx="472.20" cy="80.10" r="1.7" fill="#0000ff"/>
<text transform="translate(485.50,84.00) scale(0.92,1)" font-size="9.8" text-anchor="start" font-weight="normal" fill="#1e1e1e" stroke="#1e1e1e" stroke-width="0.25">bare</text>
<line x1="462.30" y1="90.90" x2="481.90" y2="90.90" stroke="#ffb8b8" stroke-width="1.3"/>
<circle cx="472.20" cy="90.90" r="1.7" fill="#ff0000"/>
<text transform="translate(485.50,94.80) scale(0.92,1)" font-size="9.8" text-anchor="start" font-weight="normal" fill="#1e1e1e" stroke="#1e1e1e" stroke-width="0.25">coated</text>
<polyline points="452.42,124.01 474.10,126.55 528.30,131.53 609.60,138.05" fill="none" stroke="#ff9c9c" stroke-width="1"/>
<polyline points="452.42,127.99 474.10,141.88 528.30,163.91 609.60,186.42" fill="none" stroke="#9292ff" stroke-width="1"/>
<path d="M452.42,122.31 L453.92,125.11 L450.92,125.11 Z" fill="#ff0000"/>
<path d="M474.10,124.85 L475.60,127.65 L472.60,127.65 Z" fill="#ff0000"/>
<path d="M528.30,129.83 L529.80,132.63 L526.80,132.63 Z" fill="#ff0000"/>
<path d="M609.60,136.35 L611.10,139.15 L608.10,139.15 Z" fill="#ff0000"/>
<path d="M452.42,126.29 L453.92,129.09 L450.92,129.09 Z" fill="#0000ff"/>
<path d="M474.10,140.18 L475.60,142.98 L472.60,142.98 Z" fill="#0000ff"/>
<path d="M528.30,162.21 L529.80,165.01 L526.80,165.01 Z" fill="#0000ff"/>
<path d="M609.60,184.72 L611.10,187.52 L608.10,187.52 Z" fill="#0000ff"/>
<line x1="462.30" y1="177.70" x2="481.90" y2="177.70" stroke="#c0c0ff" stroke-width="1.3"/>
<path d="M472.20,176.00 L473.70,178.80 L470.70,178.80 Z" fill="#0000ff"/>
<text transform="translate(485.50,181.60) scale(0.92,1)" font-size="9.8" text-anchor="start" font-weight="normal" fill="#1e1e1e" stroke="#1e1e1e" stroke-width="0.25">bare</text>
<line x1="462.30" y1="189.00" x2="481.90" y2="189.00" stroke="#ffb8b8" stroke-width="1.3"/>
<path d="M472.20,187.30 L473.70,190.10 L470.70,190.10 Z" fill="#ff0000"/>
<text transform="translate(485.50,192.90) scale(0.92,1)" font-size="9.8" text-anchor="start" font-weight="normal" fill="#1e1e1e" stroke="#1e1e1e" stroke-width="0.25">coated</text>
<polyline points="452.42,216.81 474.10,220.20 528.30,222.19 609.60,229.22" fill="none" stroke="#ff9c9c" stroke-width="1"/>
<polyline points="452.42,220.98 474.10,229.74 528.30,243.54 609.60,270.08" fill="none" stroke="#9292ff" stroke-width="1"/>
<circle cx="452.42" cy="216.81" r="1.7" fill="#ff0000"/>
<circle cx="474.10" cy="220.20" r="1.7" fill="#ff0000"/>
<circle cx="528.30" cy="222.19" r="1.7" fill="#ff0000"/>
<circle cx="609.60" cy="229.22" r="1.7" fill="#ff0000"/>
<circle cx="452.42" cy="220.98" r="1.7" fill="#0000ff"/>
<circle cx="474.10" cy="229.74" r="1.7" fill="#0000ff"/>
<circle cx="528.30" cy="243.54" r="1.7" fill="#0000ff"/>
<circle cx="609.60" cy="270.08" r="1.7" fill="#0000ff"/>
<line x1="462.30" y1="264.90" x2="481.90" y2="264.90" stroke="#c0c0ff" stroke-width="1.3"/>
<circle cx="472.20" cy="264.90" r="1.7" fill="#0000ff"/>
<text transform="translate(485.50,268.80) scale(0.92,1)" font-size="9.8" text-anchor="start" font-weight="normal" fill="#1e1e1e" stroke="#1e1e1e" stroke-width="0.25">bare</text>
<line x1="462.30" y1="275.90" x2="481.90" y2="275.90" stroke="#ffb8b8" stroke-width="1.3"/>
<circle cx="472.20" cy="275.90" r="1.7" fill="#ff0000"/>
<text transform="translate(485.50,279.80) scale(0.92,1)" font-size="9.8" text-anchor="start" font-weight="normal" fill="#1e1e1e" stroke="#1e1e1e" stroke-width="0.25">coated</text>
</svg>
</body></html>
